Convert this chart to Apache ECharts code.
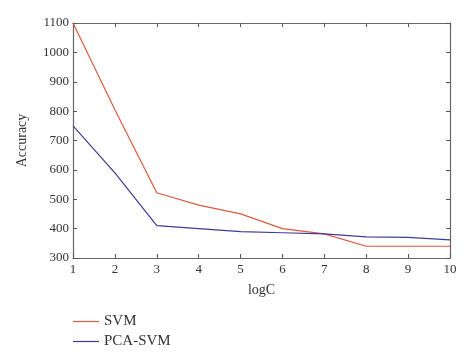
<!DOCTYPE html>
<html><head><meta charset="utf-8">
<script src="https://cdn.jsdelivr.net/npm/echarts@6/dist/echarts.min.js"></script>
<style>html,body{margin:0;padding:0;background:#fff}#c{width:474px;height:361px}</style>
</head><body><div id="c"></div>
<script>
const xValues = [1, 2, 3, 4, 5, 6, 7, 8, 9, 10];
const svm = [1100, 805, 522, 480, 450, 400, 382, 340, 340, 340];
const pcaSvm = [750, 590, 410, 400, 390, 386, 382, 372, 370, 362];
const seriesNames = ['SVM', 'PCA-SVM'];
const colors = ['#dc5a40', '#3e3c98'];
const font = 'Liberation Serif';
const chart = echarts.init(document.getElementById('c'));
const axisLineStyle = {color: '#666', width: 1.2};
const tickStyle = {show: true, inside: true, length: 4, lineStyle: {color: '#555'}};
chart.setOption({
  animation: false,
  grid: {left: 73, right: 24, top: 23, bottom: 103},
  legend: {
    orient: 'vertical', left: 68, top: 309, itemWidth: 26, itemHeight: 10, itemGap: 5,
    icon: 'path://M0,4h26v1.2H0z',
    textStyle: {fontFamily: font, fontSize: 15, color: '#333'},
    data: seriesNames
  },
  xAxis: [{
    type: 'value', min: 1, max: 10, interval: 1,
    name: 'logC', nameLocation: 'middle', nameGap: 25,
    nameTextStyle: {fontFamily: font, fontSize: 14, color: '#333'},
    axisLine: {show: true, lineStyle: axisLineStyle},
    axisTick: tickStyle,
    axisLabel: {fontFamily: font, fontSize: 13, color: '#333', margin: 5},
    splitLine: {show: false}
  }, {
    type: 'value', min: 1, max: 10, interval: 1, position: 'top',
    axisLine: {show: true, lineStyle: axisLineStyle},
    axisTick: tickStyle, axisLabel: {show: false}, splitLine: {show: false}
  }],
  yAxis: [{
    type: 'value', min: 300, max: 1100, interval: 100,
    name: 'Accuracy', nameLocation: 'middle', nameGap: 44,
    nameTextStyle: {fontFamily: font, fontSize: 14, color: '#333'},
    axisLine: {show: true, lineStyle: axisLineStyle},
    axisTick: tickStyle,
    axisLabel: {fontFamily: font, fontSize: 13, color: '#333', margin: 4, formatter: v => String(v)},
    splitLine: {show: false}
  }, {
    type: 'value', min: 300, max: 1100, interval: 100, position: 'right',
    axisLine: {show: true, lineStyle: axisLineStyle},
    axisTick: tickStyle, axisLabel: {show: false}, splitLine: {show: false}
  }],
  series: [
    {name: seriesNames[0], type: 'line', data: xValues.map((x, i) => [x, svm[i]]),
     showSymbol: false, lineStyle: {width: 1.2, color: colors[0]}, itemStyle: {color: colors[0]}},
    {name: seriesNames[1], type: 'line', data: xValues.map((x, i) => [x, pcaSvm[i]]),
     showSymbol: false, lineStyle: {width: 1.2, color: colors[1]}, itemStyle: {color: colors[1]}}
  ]
});
</script></body></html>
